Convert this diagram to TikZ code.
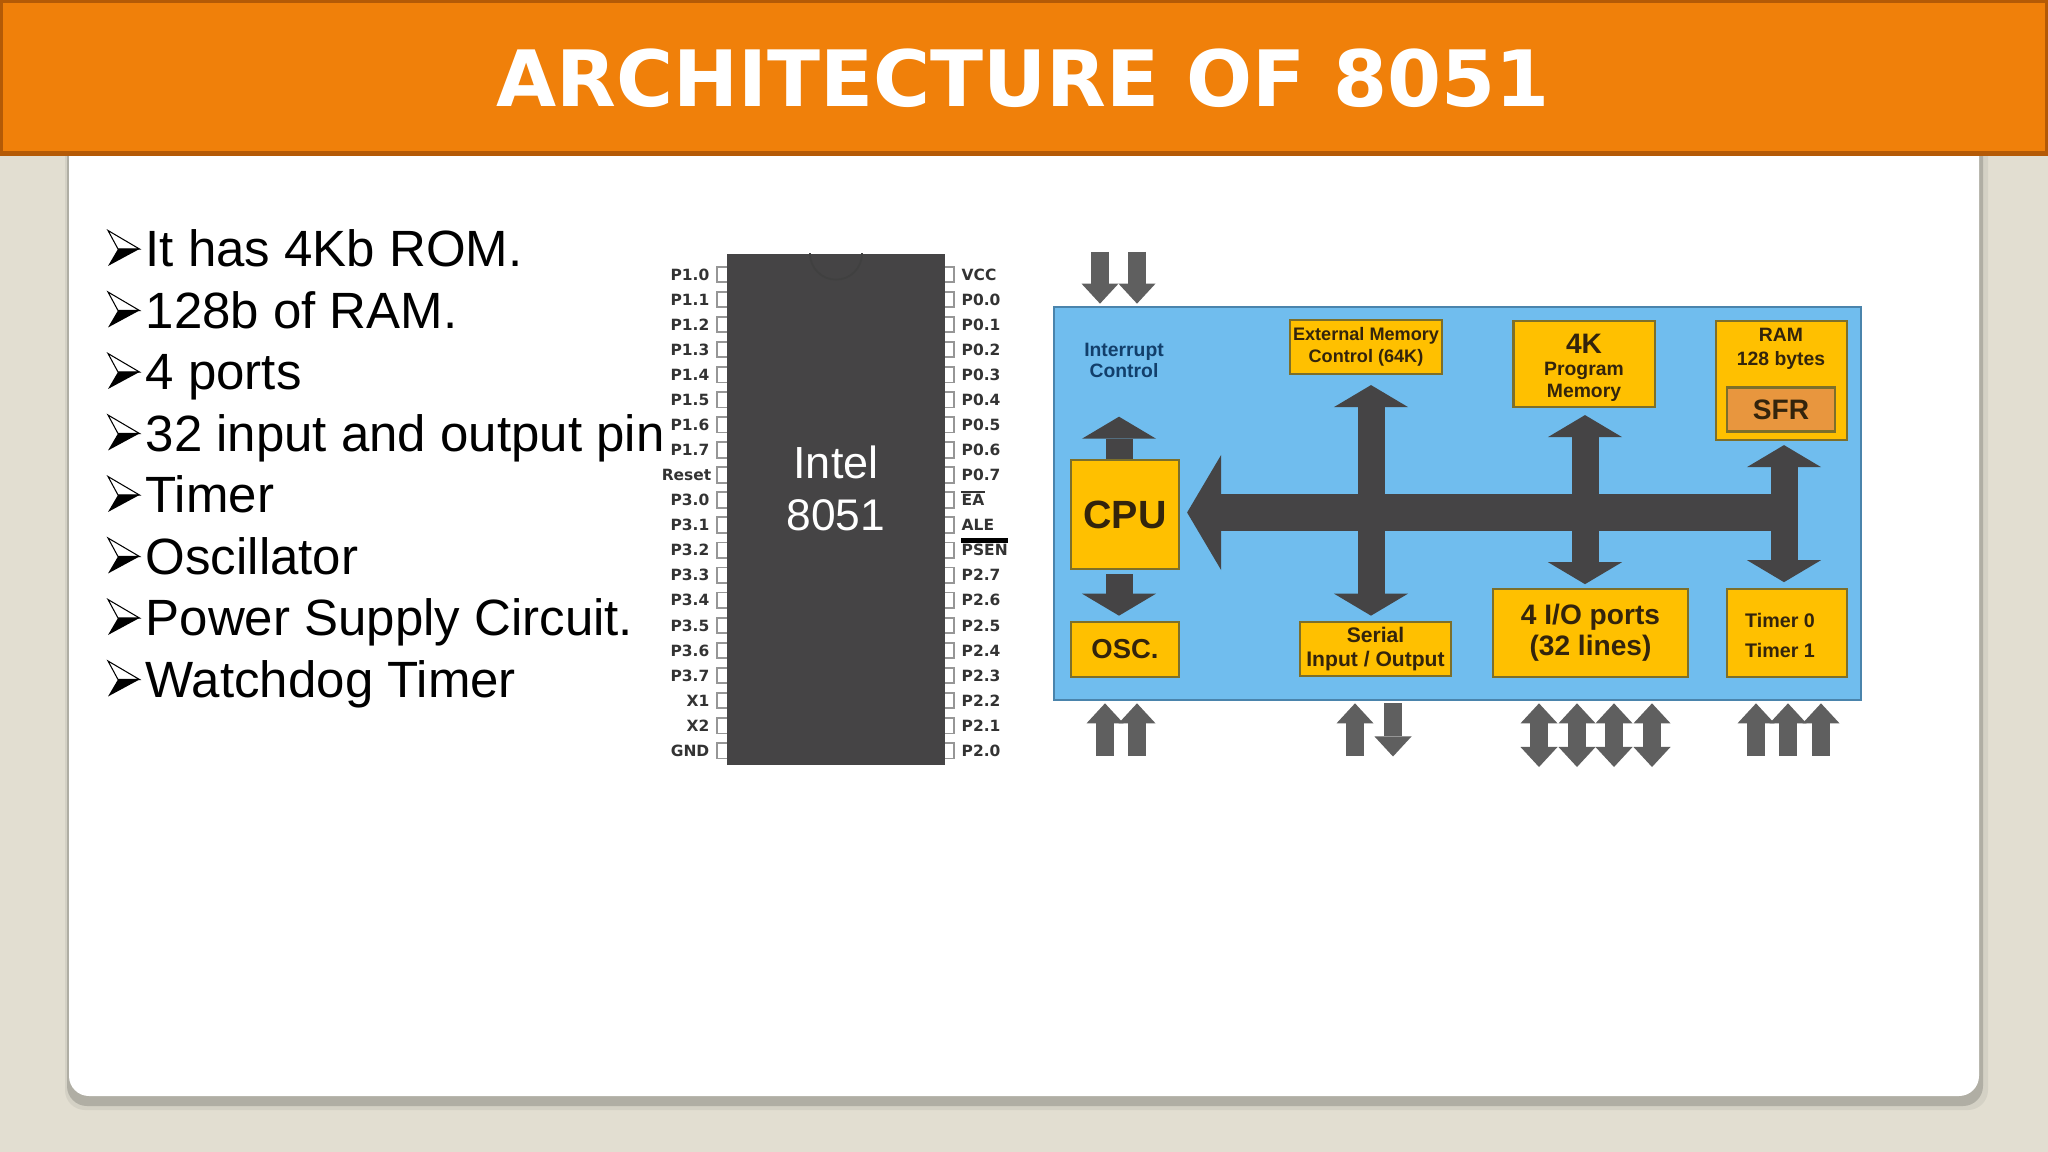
\documentclass[tikz,border=0pt]{standalone}
\usepackage{fontspec}
\setmainfont{Liberation Sans}
\newfontfamily\titlefont{DejaVu Sans}
\usepackage{tikz}
\usetikzlibrary{arrows.meta,calc}

\definecolor{pagebg}{HTML}{E2DED1}
\definecolor{panelshade}{HTML}{B0AEA4}
\definecolor{panelfade}{HTML}{D4D1C5}
\definecolor{barfill}{HTML}{F0800A}
\definecolor{barline}{HTML}{B45A06}
\definecolor{chipfill}{HTML}{454445}
\definecolor{blockfill}{HTML}{70BDEE}
\definecolor{blockline}{HTML}{4A84AC}
\definecolor{unitfill}{HTML}{FFC000}
\definecolor{unitline}{HTML}{7D6F2A}
\definecolor{sfrfill}{HTML}{E8963E}
\definecolor{unittext}{HTML}{33240C}
\definecolor{irqtext}{HTML}{123F6B}
\definecolor{labeltext}{HTML}{333333}
\definecolor{pinline}{HTML}{969696}
\definecolor{portarrow}{HTML}{5F5F5F}

\tikzset{
	unit/.style={draw=unitline,line width=0.6pt,fill=unitfill,inner sep=0pt,align=center,text=unittext,font=\bfseries\fontsize{5.15}{6.1}\selectfont},
	itemtext/.style={anchor=base west,inner sep=0pt,font=\fontsize{14.5}{16}\selectfont},
	pinbox/.style={draw=pinline,line width=0.5pt,fill=white,minimum width=0.14cm,minimum height=0.155cm,inner sep=0pt},
	pinlabel/.style={inner sep=0pt,text=labeltext,font=\titlefont\bfseries\fontsize{4.4}{5}\selectfont},
	busarrow/.style={color=chipfill,line width=0.27cm,{Triangle[length=0.22cm,width=0.74cm,line width=0pt]}-{Triangle[length=0.22cm,width=0.74cm,line width=0pt]}},
	oneway/.style={color=chipfill,line width=0.27cm,-{Triangle[length=0.22cm,width=0.74cm,line width=0pt]}},
	mainbus/.style={color=chipfill,line width=0.37cm,-{Triangle[length=0.34cm,width=1.15cm,line width=0pt]}},
	portup/.style={color=portarrow,line width=0.175cm,-{Triangle[length=0.2cm,width=0.37cm,line width=0pt]}},
	portboth/.style={color=portarrow,line width=0.175cm,{Triangle[length=0.2cm,width=0.37cm,line width=0pt]}-{Triangle[length=0.2cm,width=0.37cm,line width=0pt]}},
	itemmark/.pic={
		\filldraw[fill=white,draw=black,line width=0.3pt] (0,-35.5) -- (31.5,-17) -- (10,-17) -- cycle;
		\fill[black] (0,0) -- (31.5,-17) -- (10,-17) -- cycle;
	}
}

\begin{document}
\begin{tikzpicture}[x=0.01cm,y=-0.01cm]
	\useasboundingbox (0,0) rectangle (2048,1152);
	\fill[pagebg] (0,0) rectangle (2048,1152);
	\fill[panelfade,rounded corners=0.2cm] (65,100) rectangle (1988,1110);
	\fill[panelshade,rounded corners=0.2cm] (67,100) rectangle (1983,1106);
	\fill[white,rounded corners=0.2cm] (69,100) rectangle (1979,1096);
	\node[draw=barline,line width=1.4pt,fill=barfill,minimum width=20.45cm,minimum height=1.52cm,inner sep=0pt] (titlebar) at (1024,77) {};
	\node[inner sep=0pt,text=white,font=\titlefont\bfseries\fontsize{22.1}{26}\selectfont] (title) at (1023,78) {ARCHITECTURE OF 8051};

	\foreach \txt [count=\i from 0] in {It has 4Kb ROM.,128b of RAM.,4 ports,32 input and output pin,Timer,Oscillator,Power Supply Circuit.,Watchdog Timer} {
		\pic at (108,{266+61.5*\i}) {itemmark};
		\node[itemtext] (item\i) at (145,{267+61.5*\i}) {\txt};
	}

	\fill[white] (662,240) rectangle (1040,780);

	\foreach \lbl [count=\i from 0] in {P1.0,P1.1,P1.2,P1.3,P1.4,P1.5,P1.6,P1.7,Reset\kern-0.02cm,P3.0,P3.1,P3.2,P3.3,P3.4,P3.5,P3.6,P3.7,X1,X2,GND} {
		\node[pinbox] (lpin\i) at (724,{274.4+25.07*\i}) {};
		\node[pinlabel,anchor=east] (llabel\i) at (710,{274.4+25.07*\i}) {\lbl};
	}
	\foreach \lbl [count=\i from 0] in {VCC,P0.0,P0.1,P0.2,P0.3,P0.4,P0.5,P0.6,P0.7,EA,ALE,PSEN,P2.7,P2.6,P2.5,P2.4,P2.3,P2.2,P2.1,P2.0} {
		\node[pinbox] (rpin\i) at (947,{274.4+25.07*\i}) {};
		\node[pinlabel,anchor=west] (rlabel\i) at (961,{274.4+25.07*\i}) {\lbl};
	}
	\draw[labeltext,line width=0.6pt] ($(rlabel9.north west)+(0,-2)$) -- ($(rlabel9.north east)+(0,-2)$);
	\draw[black,line width=1.4pt] ($(rlabel11.north west)+(0,-3)$) -- ($(rlabel11.north east)+(0,-3)$);

	\node[fill=chipfill,minimum width=2.18cm,minimum height=5.1cm,inner sep=0pt] (chip) at (836,509.5) {};
	\begin{scope}
		\clip (chip.north west) rectangle (chip.south east);
		\draw[black!75,line width=0.5pt] (chip.north) circle (0.26cm);
	\end{scope}
	\node[inner sep=0pt,text=white,font=\fontsize{12.8}{15}\selectfont] (intel) at (836,462) {Intel};
	\node[inner sep=0pt,text=white,font=\fontsize{12.6}{15}\selectfont] (part) at (836,515) {8051};

	\node[draw=blockline,line width=0.7pt,fill=blockfill,minimum width=8.07cm,minimum height=3.93cm,inner sep=0pt] (block) at (1457.5,503.5) {};

	\node[unit,minimum width=1.08cm,minimum height=1.09cm,font=\bfseries\fontsize{11.2}{13}\selectfont] (cpu) at (1125,514.5) {CPU};
	\node[unit,minimum width=1.08cm,minimum height=0.555cm,font=\bfseries\fontsize{7.8}{9}\selectfont] (osc) at (1125,649.5) {OSC.};
	\node[inner sep=0pt,align=center,text=irqtext,font=\bfseries\fontsize{5.5}{6.1}\selectfont] (irq) at (1124,360.5) {Interrupt\\Control};
	\node[unit,minimum width=1.52cm,minimum height=0.54cm] (extmem) at (1366,347) {External Memory\\Control (64K)};
	\node[unit,minimum width=1.51cm,minimum height=0.545cm,font=\bfseries\fontsize{6}{6.8}\selectfont] (serial) at (1375.5,649) {Serial\\Input / Output};
	\node[unit,minimum width=1.41cm,minimum height=0.86cm,font=\bfseries\fontsize{5.5}{6.2}\selectfont] (rom) at (1584,364) {\rule{0pt}{0.27cm}{\fontsize{8}{9}\selectfont 4K}\\Program\\Memory};
	\node[unit,minimum width=1.31cm,minimum height=1.19cm] (ram) at (1781.5,380.5) {};
	\node[inner sep=0pt,align=center,text=unittext,font=\bfseries\fontsize{5.5}{6.8}\selectfont] (ramtext) at (1781,349) {RAM\\128 bytes};
	\node[unit,minimum width=1.08cm,minimum height=0.44cm,fill=sfrfill,font=\bfseries\fontsize{8}{9}\selectfont] (sfr) at (1781,409.5) {SFR};
	\node[unit,minimum width=1.95cm,minimum height=0.875cm,font=\bfseries\fontsize{8}{8.9}\selectfont] (ports) at (1590.5,633) {4 I/O ports\\(32 lines)};
	\node[unit,minimum width=1.2cm,minimum height=0.875cm,font=\bfseries\fontsize{5.6}{8.5}\selectfont] (timers) at (1787,633) {\rule{0pt}{0.2cm}Timer 0\kern0.14cm\\Timer 1\kern0.14cm};

	\coordinate (busleft) at (1371,0);
	\coordinate (busmid) at (1585,0);
	\coordinate (busright) at (1784,0);
	\coordinate (busend) at (1784,512.5);
	\draw[mainbus,shorten >=0.07cm] (busend) -- (busend -| cpu.east);
	\draw[busarrow,shorten <=0.1cm,shorten >=0.05cm] (extmem.south -| busleft) -- (serial.north -| busleft);
	\draw[busarrow,shorten <=0.07cm,shorten >=0.04cm] (rom.south -| busmid) -- (ports.north -| busmid);
	\draw[busarrow,shorten <=0.04cm,shorten >=0.06cm] (ram.south -| busright) -- (timers.north -| busright);
	\coordinate (cpuaxis) at (1119,0);
	\draw[oneway,shorten >=0.38cm] (cpu.north -| cpuaxis) -- (irq.south -| cpuaxis);
	\draw[oneway,shorten <=0.04cm,shorten >=0.05cm] (cpu.south -| cpuaxis) -- (osc.north -| cpuaxis);

	\foreach \x [count=\i] in {1100,1137} {
		\coordinate (irqpin\i) at (\x,252);
		\draw[portup,shorten >=0.02cm] (irqpin\i) -- (irqpin\i |- block.north);
	}
	\foreach \x [count=\i] in {1105,1137} {
		\coordinate (clkpin\i) at (\x,755.5);
		\draw[portup,shorten >=0.02cm] (clkpin\i) -- (clkpin\i |- block.south);
	}
	\coordinate (rxpin) at (1355,755.5);
	\draw[portup,shorten >=0.02cm] (rxpin) -- (rxpin |- block.south);
	\coordinate (txpin) at (1393,756.5);
	\draw[portup,shorten <=0.02cm] (txpin |- block.south) -- (txpin);
	\foreach \x [count=\i] in {1539,1577,1614,1652} {
		\coordinate (portpin\i) at (\x,767);
		\draw[portboth,shorten <=0.02cm] (portpin\i |- block.south) -- (portpin\i);
	}
	\foreach \x [count=\i] in {1756,1788,1821} {
		\coordinate (timerpin\i) at (\x,755.5);
		\draw[portup,shorten >=0.02cm] (timerpin\i) -- (timerpin\i |- block.south);
	}
\end{tikzpicture}
\end{document}
